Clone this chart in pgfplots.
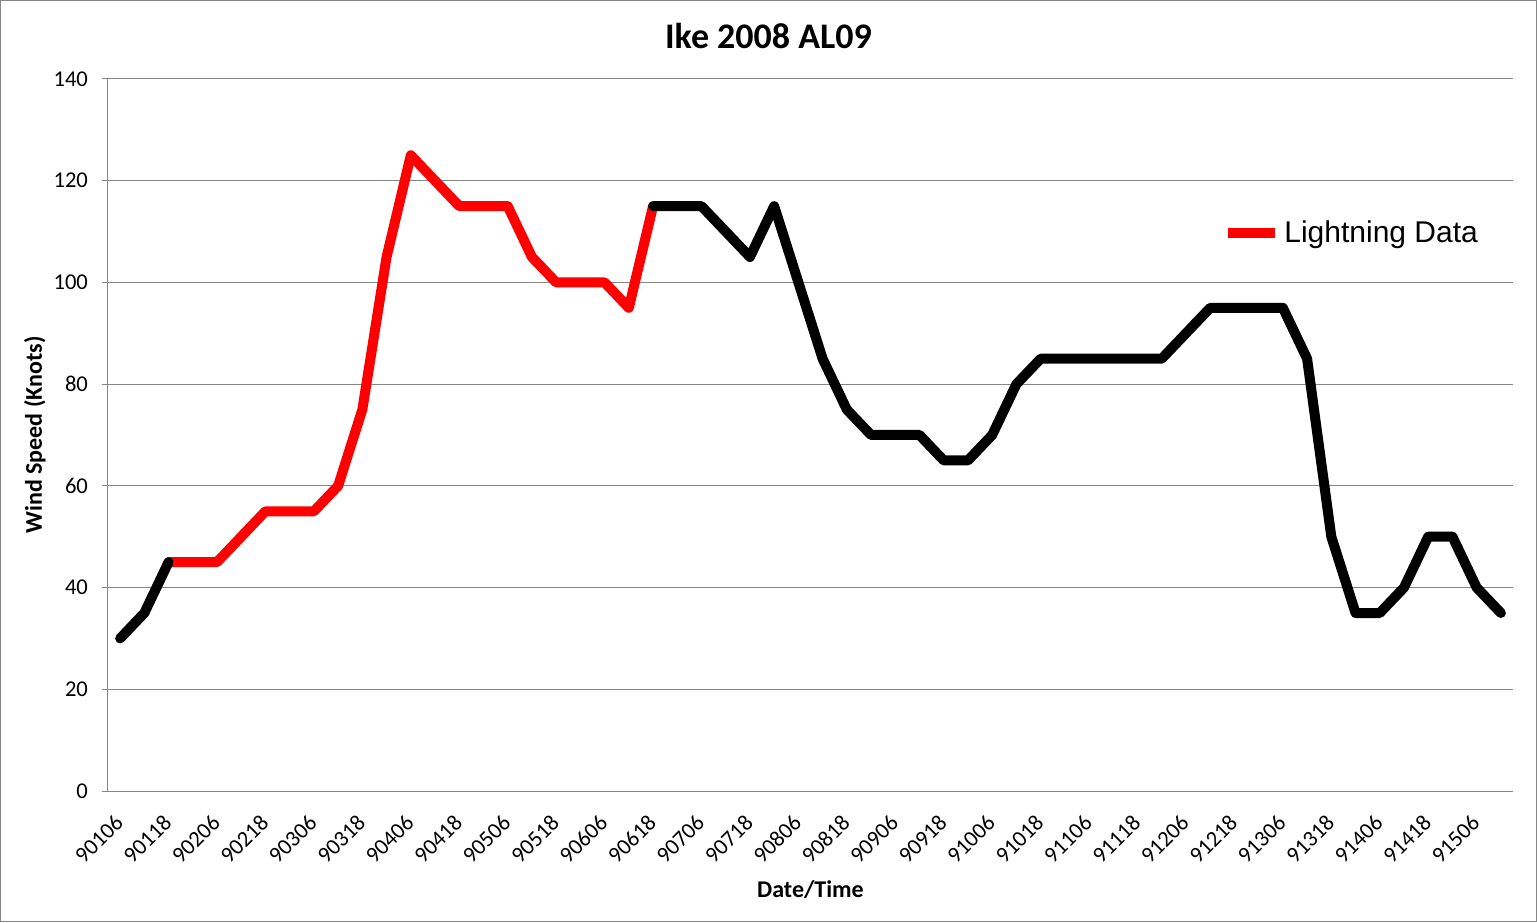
\documentclass[border=0pt]{standalone}
\usepackage{fontspec}
\setmainfont{Carlito}
\newfontfamily\arialfont{Liberation Sans}
\usepackage{pgfplots}
\usepackage{pgfplotstable}
\pgfplotsset{compat=1.18}

\definecolor{axisgray}{HTML}{868686}

% 6-hourly best-track wind speed (knots), index 0 = 90106
\pgfplotstableread{
i speed
0 30
1 35
2 45
3 45
4 45
5 50
6 55
7 55
8 55
9 60
10 75
11 105
12 125
13 120
14 115
15 115
16 115
17 105
18 100
19 100
20 100
21 95
22 115
23 115
24 115
25 110
26 105
27 115
28 100
29 85
30 75
31 70
32 70
33 70
34 65
35 65
36 70
37 80
38 85
39 85
40 85
41 85
42 85
43 85
44 90
45 95
46 95
47 95
48 95
49 85
50 50
51 35
52 35
53 40
54 50
55 50
56 40
57 35
}\ike

\begin{document}
\begin{tikzpicture}
\path[use as bounding box] (0,0) rectangle (768.5pt,461pt);
\draw[axisgray, line width=0.5pt] (0.25pt,0.25pt) rectangle (768.25pt,460.75pt);
\node[font=\fontsize{18}{22}\selectfont\bfseries] at (384.25pt,443pt) {Ike 2008 AL09};
\begin{axis}[
  at={(54pt,65.5pt)}, anchor=south west,
  scale only axis, width=702.5pt, height=356pt,
  xmin=-0.5, xmax=57.5, ymin=0, ymax=140,
  axis lines*=left,
  axis line style={axisgray, line width=0.5pt, -},
  ymajorgrids, grid style={axisgray, line width=0.5pt},
  ytick={0,20,...,140},
  ytick style={axisgray, line width=0.5pt},
  tick align=outside, major tick length=3pt,
  xtick={0,2,...,56},
  xtick style={draw=none},
  xticklabels={90106,90118,90206,90218,90306,90318,90406,90418,90506,90518,90606,90618,90706,90718,90806,90818,90906,90918,91006,91018,91106,91118,91206,91218,91306,91318,91406,91418,91506},
  xticklabel style={xshift=2pt, yshift=-8.5pt, rotate=45, anchor=east, font=\fontsize{11.3}{13}\selectfont},
  yticklabel style={font=\fontsize{11.3}{13}\selectfont, xshift=-3.5pt},
  /pgf/number format/assume math mode=true,
  xlabel={Date/Time}, ylabel={Wind Speed (Knots)},
  xlabel style={font=\fontsize{12}{14}\selectfont\bfseries, at={(axis description cs:0.5,-0.139)}, anchor=center},
  ylabel style={font=\fontsize{12}{14}\selectfont\bfseries, at={(axis description cs:-0.052,0.5)}, anchor=center, rotate=0},
  legend style={at={(axis description cs:0.7936,0.784)}, anchor=west, draw=none, fill=none, inner sep=0pt,
    font=\arialfont\fontsize{15}{18}\selectfont},
  legend image code/.code={\draw[red, line width=5pt, line cap=butt] (0pt,0pt) -- (23.5pt,0pt);},
]
\addplot[red, line width=5pt, line join=round, line cap=round, restrict x to domain=2:22] table[x=i, y=speed] {\ike};
\addlegendentry{Lightning Data}
\addplot[black, line width=5pt, line join=round, line cap=round, restrict x to domain=0:2, forget plot] table[x=i, y=speed] {\ike};
\addplot[black, line width=5pt, line join=round, line cap=round, restrict x to domain=22:57, forget plot] table[x=i, y=speed] {\ike};
\end{axis}
\end{tikzpicture}
\end{document}
